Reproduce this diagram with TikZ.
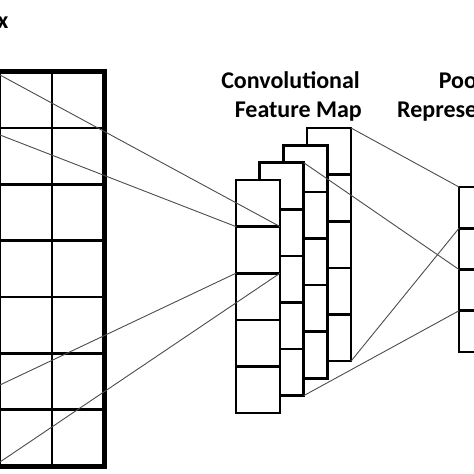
\documentclass[tikz,border=0pt]{standalone}
\usepackage{fontspec}
\setmainfont{Carlito}
\tikzset{
  cellbox/.style={draw, fill=white, line width=2.6pt, inner sep=0pt, outer sep=0pt, anchor=north west},
  incell/.style={cellbox, minimum width=52.5pt, minimum height=56.36pt},
  fcell/.style={cellbox, minimum width=44pt, minimum height=46.6pt},
  pcell/.style={cellbox, minimum width=44pt, minimum height=41.25pt},
  outer/.style={line width=5pt},
  link/.style={line width=0.9pt, black!70},
  title/.style={font=\bfseries\fontsize{24}{29}\selectfont, inner sep=0pt}
}
\begin{document}
\begin{tikzpicture}[x=1pt,y=-1pt]
\useasboundingbox (0,0) rectangle (474,474);
\clip (0,0) rectangle (474,474);

% input matrix
\foreach \r in {1,...,7}
  \foreach \c in {0,1,2}
    \node[incell] (in-\r-\c) at ({-53+52.5*\c},{71.5+56.36*(\r-1)}) {};
\draw[outer] (in-1-0.north west) -- (in-1-2.north east) -- (in-7-2.south east) -- (in-7-0.south west);
\node[title, anchor=base east] (lbl) at (8.5,28) {x};

% convolutional feature maps, back to front
\foreach \k in {4,3,2,1}
  \foreach \r in {1,...,5}
    \node[fcell] (f\k-\r) at ({236+23.7*(\k-1)},{180-17.33*(\k-1)+46.6*(\r-1)}) {};

% pooled representation
\foreach \r in {1,...,4}
  \node[pcell] (p-\r) at (459,{187+41.25*(\r-1)}) {};

% titles
\node[title, anchor=base east] (convA) at (360,88) {Convolutional};
\node[title, anchor=base east] (convB) at (362,117) {Feature Map};
\node[title, anchor=base west] (poolB) at (397,117) {Representation};
\path (poolB.base) ++(0,-29) node[title, anchor=base] (poolA) {Pooled};

% receptive field lines
\coordinate (s1) at (-10,69.6);
\coordinate (s2) at (-10,131.1);
\coordinate (s3) at (-10,389.7);
\coordinate (s4) at (-10,468.7);
\draw[link] (s1) -- (f1-2.north east);
\draw[link] (s2) -- (f1-2.north west);
\draw[link] (s3) -- (f1-3.north west);
\draw[link] (s4) -- (f1-3.north east);

% pooling lines
\draw[link] (f4-1.north east) -- (p-1.north west);
\draw[link] (f2-1.north east) -- (p-3.north west);
\draw[link] (f4-5.south east) -- (p-2.north west);
\draw[link] (f2-5.south east) -- (p-4.north west);
\end{tikzpicture}
\end{document}
